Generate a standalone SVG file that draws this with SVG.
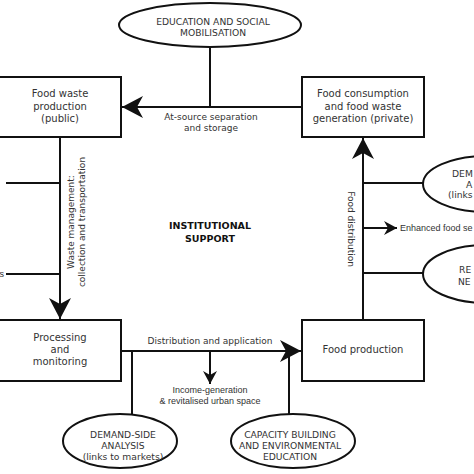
<svg xmlns="http://www.w3.org/2000/svg" width="474" height="474" viewBox="0 0 474 474">
<style>
.box{fill:#fff;stroke:#111;stroke-width:2}
.ell{fill:#fff;stroke:#111;stroke-width:2}
.ln{stroke:#111;stroke-width:2;fill:none}
.t{font-family:"DejaVu Sans",Verdana,sans-serif;font-size:10px;fill:#333;text-anchor:middle}
.s{font-family:"DejaVu Sans",Verdana,sans-serif;font-size:9px;fill:#333;text-anchor:middle}
.e{font-family:"DejaVu Sans",Verdana,sans-serif;font-size:9.2px;fill:#333;text-anchor:middle}
.m{font-family:"Liberation Sans",Arial,sans-serif;font-size:9px;fill:#333;text-anchor:middle}
.b{font-family:"DejaVu Sans",Verdana,sans-serif;font-size:9.5px;font-weight:bold;fill:#111;text-anchor:middle}
</style>
<defs>
<marker id="big" markerUnits="userSpaceOnUse" markerWidth="30" markerHeight="30" refX="0" refY="0" orient="auto" overflow="visible">
<path d="M0,0 L-21,-11 L-15,0 L-21,11 Z" fill="#111"/>
</marker>
<marker id="sm" markerUnits="userSpaceOnUse" markerWidth="20" markerHeight="20" refX="0" refY="0" orient="auto" overflow="visible">
<path d="M0,0 L-13,-7 L-9,0 L-13,7 Z" fill="#111"/>
</marker>
</defs>
<rect width="474" height="474" fill="#fff"/>
<g id="connectors">
<line class="ln" x1="210" y1="47" x2="210" y2="107"/>
<line class="ln" x1="302" y1="107" x2="122" y2="107" marker-end="url(#big)"/>
<line class="ln" x1="60" y1="137" x2="60" y2="319" marker-end="url(#big)"/>
<line class="ln" x1="6" y1="183" x2="60" y2="183" stroke="#333"/>
<line class="ln" x1="6" y1="274" x2="60" y2="274" stroke="#333"/>
<line class="ln" x1="121" y1="351" x2="301" y2="351" marker-end="url(#big)"/>
<line class="ln" x1="210" y1="351" x2="210" y2="384" marker-end="url(#sm)"/>
<line class="ln" x1="132" y1="351" x2="132" y2="414"/>
<line class="ln" x1="289" y1="351" x2="289" y2="414"/>
<line class="ln" x1="363" y1="320" x2="363" y2="138" marker-end="url(#big)"/>
<line class="ln" x1="363" y1="183" x2="424" y2="183"/>
<line class="ln" x1="363" y1="273" x2="424" y2="273"/>
<line class="ln" x1="363" y1="228" x2="397" y2="228" marker-end="url(#sm)"/>
<text class="s" x="211" y="120">At-source separation</text>
<text class="s" x="211" y="131">and storage</text>
<text class="s" transform="translate(74,222) rotate(-90)">Waste management:</text>
<text class="s" transform="translate(85,222) rotate(-90)">collection and transportation</text>
<text class="s" transform="translate(348,229) rotate(90)">Food distribution</text>
<text class="s" x="210" y="344">Distribution and application</text>
<text class="m" x="210" y="393">Income-generation</text>
<text class="m" x="210" y="404">&amp; revitalised urban space</text>
<text class="m" x="400" y="231" style="text-anchor:start">Enhanced food se</text>
<text class="m" x="4" y="277" style="text-anchor:end">s</text>
</g>
<g id="institutional">
<text class="b" x="210" y="229">INSTITUTIONAL</text>
<text class="b" x="210" y="242">SUPPORT</text>
</g>
<g id="education">
<ellipse class="ell" cx="210" cy="25" rx="91" ry="22"/>
<text class="e" x="213" y="25">EDUCATION AND SOCIAL</text>
<text class="e" x="213" y="36">MOBILISATION</text>
</g>
<g id="food-waste-public">
<rect class="box" x="-2" y="77" width="123" height="60"/>
<text class="t" x="60" y="97">Food waste</text>
<text class="t" x="60" y="110">production</text>
<text class="t" x="60" y="122">(public)</text>
</g>
<g id="food-consumption">
<rect class="box" x="302" y="77" width="122" height="60"/>
<text class="t" x="363" y="97">Food consumption</text>
<text class="t" x="363" y="110">and food waste</text>
<text class="t" x="363" y="122">generation (private)</text>
</g>
<g id="processing">
<rect class="box" x="-2" y="320" width="123" height="61"/>
<text class="t" x="60" y="341">Processing</text>
<text class="t" x="60" y="353">and</text>
<text class="t" x="60" y="365">monitoring</text>
</g>
<g id="food-production">
<rect class="box" x="302" y="320" width="122" height="61"/>
<text class="t" x="363" y="353">Food production</text>
</g>
<g id="demand-side-bottom">
<ellipse class="ell" cx="120" cy="441" rx="57" ry="27"/>
<text class="e" x="123" y="438">DEMAND-SIDE</text>
<text class="e" x="123" y="449">ANALYSIS</text>
<text class="e" x="123" y="460">(links to markets)</text>
</g>
<g id="capacity-building">
<ellipse class="ell" cx="293" cy="441" rx="62" ry="27"/>
<text class="e" x="290" y="438">CAPACITY BUILDING</text>
<text class="e" x="290" y="449">AND ENVIRONMENTAL</text>
<text class="e" x="290" y="460">EDUCATION</text>
</g>
<g id="demand-side-right">
<ellipse class="ell" cx="487" cy="184" rx="64" ry="28"/>
<text class="e" x="452" y="177" style="text-anchor:start">DEM</text>
<text class="e" x="466" y="188" style="text-anchor:start">A</text>
<text class="e" x="448" y="198" style="text-anchor:start">(links</text>
</g>
<g id="right-lower">
<ellipse class="ell" cx="487" cy="274" rx="64" ry="29"/>
<text class="e" x="459" y="273" style="text-anchor:start">RE</text>
<text class="e" x="458" y="285" style="text-anchor:start">NE</text>
</g>
</svg>
